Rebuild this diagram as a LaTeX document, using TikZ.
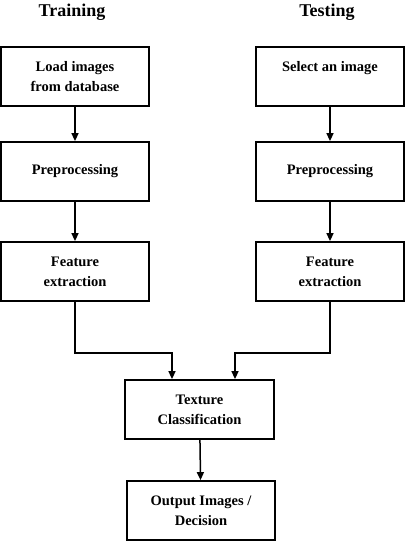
\documentclass[tikz,border=0pt]{standalone}
\usepackage{fontspec}
\setmainfont{Liberation Serif}
\usetikzlibrary{arrows.meta}

\begin{document}
\begin{tikzpicture}[x=1pt, y=-1pt,
  box/.style={draw, line width=1.8pt, minimum width=148pt, minimum height=59pt,
    align=center, inner sep=0pt, font=\fontsize{14.5}{20}\selectfont\bfseries},
  title/.style={font=\fontsize{18}{20}\selectfont\bfseries},
  flow/.style={line width=1.5pt, -{Triangle[length=8pt,width=7pt]}}]
  \useasboundingbox (0,0) rectangle (407,541);

  % column titles
  \node[title] (train) at (72,12) {Training};
  \node[title] (test) at (327,12) {Testing};

  % training side
  \node[box] (load) at (75,76.5) {Load images\\from database};
  \node[box] (pre1) at (75,171.5) {Preprocessing};
  \node[box] (fe1) at (75,271.5) {Feature\\extraction};

  % testing side
  \node[box] (sel) at (330,76.5) {Select an image\\\mbox{}};
  \node[box] (pre2) at (330,171.5) {Preprocessing};
  \node[box] (fe2) at (330,271.5) {Feature\\extraction};

  % common part
  \node[box, minimum width=149pt] (tc) at (199.5,409.5) {Texture\\Classification};
  \node[box] (out) at (201,510.5) {Output Images /\\Decision};

  \draw[flow] (load) -- (pre1);
  \draw[flow] (pre1) -- (fe1);
  \draw[flow] (sel) -- (pre2);
  \draw[flow] (pre2) -- (fe2);

  \coordinate (jl) at (172,353);
  \coordinate (jr) at (235,353);
  \draw[flow] (fe1.south) |- (jl) -- (jl |- tc.north);
  \draw[flow] (fe2.south) |- (jr) -- (jr |- tc.north);
  \draw[flow] (tc) -- (out);
\end{tikzpicture}
\end{document}
